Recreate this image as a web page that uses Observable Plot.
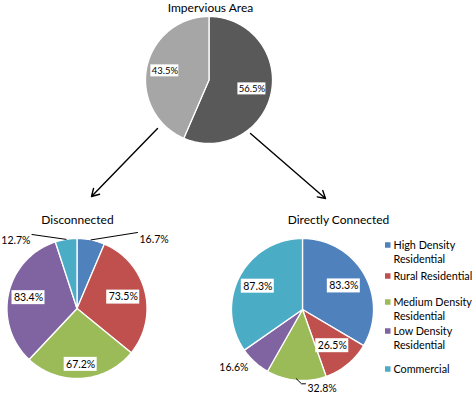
<!DOCTYPE html>
<html><head><meta charset="utf-8">
<script src="https://cdn.jsdelivr.net/npm/d3@7"></script>
<script src="https://cdn.jsdelivr.net/npm/@observablehq/plot@0.6"></script>
<style>body{margin:0;background:#fff} svg{display:block}</style>
</head><body><div id="chart"></div>
<script>
// ---------- data ----------
const categories = ["High Density Residential", "Rural Residential", "Medium Density Residential", "Low Density Residential", "Commercial"];
const titles = ["Impervious Area", "Disconnected", "Directly Connected"];
const imperviousShares = [56.5, 43.5];
const imperviousLabels = ["56.5%", "43.5%"];
const disconnectedShares = [6.4, 29.5, 26.1, 33.0, 5.0];
const disconnectedLabels = ["16.7%", "73.5%", "67.2%", "83.4%", "12.7%"];
const connectedShares = [33.5, 11.1, 13.6, 7.1, 34.7];
const connectedLabels = ["83.3%", "26.5%", "32.8%", "16.6%", "87.3%"];
const colors = ["#4F81BD", "#C0504D", "#9BBB59", "#8064A2", "#4BACC6"];
const grays = ["#595959", "#A6A6A6"];

// ---------- layout ----------
const W = 474, H = 393;
const pies = [
  {cx: 208.5, cy: 79.5, r: 63.5, title: [210, 8], font: 9.5, boxW: 28, boxH: 12},
  {cx: 76.5, cy: 308, r: 70, title: [77, 220], font: 10.5, boxW: 33, boxH: 14},
  {cx: 302, cy: 309, r: 71, title: [338, 220], font: 10.5, boxW: 33, boxH: 14}
];
const labelPlace = [
  [{f: 0.69}, {f: 0.71}],
  [{dx: 62.5, dy: -69, anchor: "start", leader: {f: 1, pts: [[60.5, -76]]}},
   {f: 0.68}, {f: 0.8}, {f: 0.71},
   {dx: -46.5, dy: -68, anchor: "end", leader: {f: 1, pts: [[-45, -74]]}}],
  [{f: 0.67}, {f: 0.66},
   {dx: 5, dy: 79, anchor: "start", leader: {f: 0.98, pts: [[-1, 74.3], [3, 74.3]]}},
   {dx: -54, dy: 57.7, anchor: "end"},
   {f: 0.71}]
];
const arrows = [
  {x1: 157, y1: 128, x2: 91, y2: 196},
  {x1: 250, y1: 133, x2: 325, y2: 198}
];
const legendY = [245, 276, 302, 331, 369];
const legendX = 385, legendSq = 5.5, legendLine = 14;

// ---------- build ----------
const series = [
  {shares: imperviousShares, labels: imperviousLabels, colors: grays},
  {shares: disconnectedShares, labels: disconnectedLabels, colors},
  {shares: connectedShares, labels: connectedLabels, colors}
];
const rows = [], boxes = [], texts = [], leaders = [];
series.forEach((s, p) => {
  const {cx, cy, r} = pies[p];
  const pt = (a, rr) => [cx + rr * Math.sin(a), cy - rr * Math.cos(a)];
  const total = d3.sum(s.shares);
  let acc = 0;
  s.shares.forEach((v, i) => {
    const a0 = acc / total * 2 * Math.PI;
    acc += v;
    const a1 = acc / total * 2 * Math.PI;
    const key = p + "-" + i, color = s.colors[i];
    rows.push({key, x: cx, y: cy, color});
    const n = Math.max(2, Math.ceil((a1 - a0) / (Math.PI / 180)));
    for (let k = 0; k <= n; k++) {
      const [x, y] = pt(a0 + (a1 - a0) * k / n, r);
      rows.push({key, x, y, color});
    }
    rows.push({key, x: cx, y: cy, color});
    const am = (a0 + a1) / 2;
    const pl = labelPlace[p][i];
    if (pl.f != null) {
      const [x, y] = pt(am, pl.f * r);
      boxes.push({x1: x - pies[p].boxW / 2, x2: x + pies[p].boxW / 2, y1: y - pies[p].boxH / 2, y2: y + pies[p].boxH / 2});
      texts.push({x, y, text: s.labels[i], anchor: "middle", size: pies[p].font});
    } else {
      texts.push({x: cx + pl.dx, y: cy + pl.dy, text: s.labels[i], anchor: pl.anchor, size: pies[p].font});
      if (pl.leader) {
        const [x0, y0] = pt(am, pl.leader.f * r);
        leaders.push({key, x: x0, y: y0});
        pl.leader.pts.forEach(([dx, dy]) => leaders.push({key, x: cx + dx, y: cy + dy}));
      }
    }
  });
});
const titleRows = titles.map((t, p) => ({text: t, x: pies[p].title[0], y: pies[p].title[1]}));
const legendSquares = categories.map((c, i) => ({x1: legendX, x2: legendX + legendSq, y1: legendY[i] - legendSq / 2, y2: legendY[i] + legendSq / 2, color: colors[i]}));
const legendText = [];
categories.forEach((c, i) => {
  const lines = c.includes("Density") ? c.replace(" Residential", "\nResidential").split("\n") : [c];
  lines.forEach((t, k) => legendText.push({text: t, x: legendX + legendSq + 2.5, y: legendY[i] + k * legendLine}));
});

const chart = Plot.plot({
  width: W, height: H, margin: 0,
  style: {fontFamily: "Lato, sans-serif", background: "#fff", color: "#000"},
  x: {domain: [0, W], range: [0, W], axis: null},
  y: {domain: [0, H], range: [0, H], axis: null},
  color: {type: "identity"},
  marks: [
    Plot.line(rows, {x: "x", y: "y", z: "key", fill: "color", stroke: "white", strokeWidth: 1.3, curve: "linear", strokeLinejoin: "round"}),
    Plot.rect(boxes, {x1: "x1", x2: "x2", y1: "y1", y2: "y2", fill: "white"}),
    Plot.line(leaders, {x: "x", y: "y", z: "key", stroke: "#000", strokeWidth: 1, curve: "linear"}),
    Plot.text(texts.filter(d => d.anchor === "middle"), {x: "x", y: "y", text: "text", fontSize: "size", textAnchor: "middle", fill: "#000"}),
    Plot.text(texts.filter(d => d.anchor === "start"), {x: "x", y: "y", text: "text", fontSize: "size", textAnchor: "start", fill: "#000"}),
    Plot.text(texts.filter(d => d.anchor === "end"), {x: "x", y: "y", text: "text", fontSize: "size", textAnchor: "end", fill: "#000"}),
    Plot.text(titleRows, {x: "x", y: "y", text: "text", fontSize: 12, textAnchor: "middle", fill: "#000"}),
    Plot.arrow(arrows, {x1: "x1", y1: "y1", x2: "x2", y2: "y2", stroke: "#000", strokeWidth: 1.4, headLength: 9}),
    Plot.rect(legendSquares, {x1: "x1", x2: "x2", y1: "y1", y2: "y2", fill: "color"}),
    Plot.text(legendText, {x: "x", y: "y", text: "text", fontSize: 10.8, textAnchor: "start", fill: "#000"})
  ]
});
document.getElementById("chart").appendChild(chart);
</script>
</body></html>
